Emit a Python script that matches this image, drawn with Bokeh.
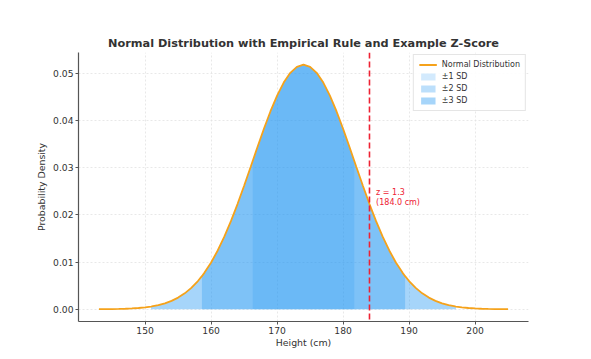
from bokeh.plotting import figure
from bokeh.models import Range1d, Legend, LegendItem, Span, Label, FixedTicker, NumeralTickFormatter, ColumnDataSource
from bokeh.embed import file_html
from bokeh.resources import INLINE

# ---- data ----
heights = list(range(143, 206))
density = [0.0000156, 0.0000262, 0.0000430, 0.0000696, 0.000111, 0.000173, 0.000266,
           0.000403, 0.000598, 0.000875, 0.00126, 0.00178, 0.00247, 0.00337, 0.00453,
           0.00598, 0.00777, 0.00992, 0.01246, 0.01538, 0.01867, 0.02229, 0.02617,
           0.03020, 0.03427, 0.03824, 0.04196, 0.04527, 0.04802, 0.05009, 0.05137,
           0.05181,
           0.05137, 0.05009, 0.04802, 0.04527, 0.04196, 0.03824, 0.03427, 0.03020,
           0.02617, 0.02229, 0.01867, 0.01538, 0.01246, 0.00992, 0.00777, 0.00598,
           0.00453, 0.00337, 0.00247, 0.00178, 0.00126, 0.000875, 0.000598, 0.000403,
           0.000266, 0.000173, 0.000111, 0.0000696, 0.0000430, 0.0000262, 0.0000156]
edge_heights = [150.9, 158.6, 166.3, 181.7, 189.4, 197.1]
edge_density = [0.000576, 0.00701, 0.03143, 0.03143, 0.00701, 0.000576]

band_labels = ["±1 SD", "±2 SD", "±3 SD"]
band_low = [166.3, 158.6, 150.9]
band_high = [181.7, 189.4, 197.1]

z_score = 1.3
z_height = 184.0

x_ticks = [150, 160, 170, 180, 190, 200]
y_ticks = [0.00, 0.01, 0.02, 0.03, 0.04, 0.05]

# ---- merge curve points ----
pts = sorted(zip(heights + edge_heights, density + edge_density))
xs = [p[0] for p in pts]
ys = [p[1] for p in pts]

FONT = "DejaVu Sans"
TXT = "#333333"

p = figure(width=585, height=355, output_backend="svg", toolbar_location=None,
           x_range=Range1d(139.9, 208.1), y_range=Range1d(-0.00259, 0.0544),
           min_border_left=78, min_border_right=57, min_border_top=52, min_border_bottom=34)
p.outline_line_color = None
p.background_fill_color = "white"

p.title.text = "Normal Distribution with Empirical Rule and Example Z-Score"
p.title.align = "center"
p.title.text_font = FONT
p.title.text_font_size = "11.3px"
p.title.text_font_style = "bold"
p.title.text_color = TXT
p.title.standoff = 5

band_alphas = [0.2, 0.3, 0.4]
band_renderers = []
for lab, lo, hi, a in zip(band_labels, band_low, band_high, band_alphas):
    bx = [x for x in xs if lo - 1e-9 <= x <= hi + 1e-9]
    by = [y for x, y in zip(xs, ys) if lo - 1e-9 <= x <= hi + 1e-9]
    src = ColumnDataSource(dict(x=bx, y1=[0] * len(bx), y2=by))
    r = p.varea(x="x", y1="y1", y2="y2", source=src, fill_color="#2196F3", fill_alpha=a)
    band_renderers.append((lab, r))

line_r = p.line(xs, ys, line_color="#F5A21B", line_width=1.8)

p.add_layout(Span(location=z_height, dimension="height", line_color="#EE2233",
                  line_dash="6 3", line_width=1.6))
p.add_layout(Label(x=z_height + 1.0, y=0.0248, text=f"z = {z_score}", text_color="#EE2233",
                   text_font=FONT, text_font_size="8px", text_baseline="middle"))
p.add_layout(Label(x=z_height + 1.0, y=0.0226, text=f"({z_height:.1f} cm)", text_color="#EE2233",
                   text_font=FONT, text_font_size="8px", text_baseline="middle"))

items = [LegendItem(label="Normal Distribution", renderers=[line_r])]
for lab, r in band_renderers:
    items.append(LegendItem(label=lab, renderers=[r]))
legend = Legend(items=items, location="top_right")
legend.label_text_font = FONT
legend.label_text_font_size = "8px"
legend.label_text_color = TXT
legend.glyph_height = 9
legend.glyph_width = 18
legend.label_height = 9
legend.spacing = 3
legend.padding = 5
legend.margin = 2
legend.border_line_color = "#cccccc"
legend.border_line_width = 1
legend.background_fill_alpha = 0.9
p.add_layout(legend)

for ax in (p.xaxis, p.yaxis):
    ax.axis_line_color = "#555555"
    ax.axis_line_width = 1.2
    ax.major_tick_line_color = "#555555"
    ax.major_tick_out = 3
    ax.major_tick_in = 0
    ax.minor_tick_line_color = None
    ax.major_label_text_font = FONT
    ax.major_label_text_font_size = "9.2px"
    ax.major_label_text_color = TXT
    ax.axis_label_text_font = FONT
    ax.axis_label_text_font_size = "9.4px"
    ax.axis_label_text_font_style = "normal"
    ax.axis_label_text_color = TXT
    ax.major_label_standoff = 2

p.xaxis.ticker = FixedTicker(ticks=x_ticks)
p.yaxis.ticker = FixedTicker(ticks=y_ticks)
p.yaxis.formatter = NumeralTickFormatter(format="0.00")
p.xaxis.axis_label = "Height (cm)"
p.yaxis.axis_label = "Probability Density"
p.xaxis.axis_label_standoff = 0
p.yaxis.axis_label_standoff = 3

p.grid.grid_line_color = "#e2e2e2"
p.grid.grid_line_dash = "2 2"
p.grid.grid_line_width = 0.8

open("out.html", "w").write(file_html(p, INLINE))
